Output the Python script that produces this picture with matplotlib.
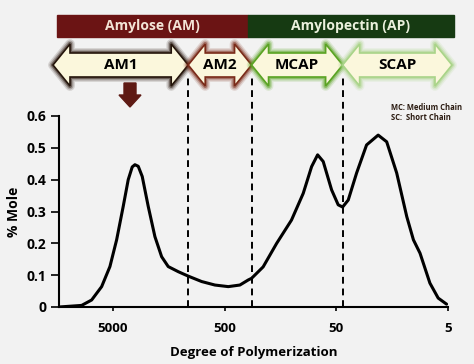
import matplotlib.pyplot as plt
import numpy as np
from matplotlib.patches import Polygon, Rectangle

# chain length distribution
dp = [15200, 9530, 7755, 6310, 5320, 4633, 4045, 3648, 3359, 3177, 2967, 2733, 2415,
      2104, 1832, 1599, 1301, 1059, 803, 611, 464, 365, 307, 287, 226, 171, 126, 98.9,
      83.2, 73.5, 65.5, 55.1, 48.1, 43.9, 39.1, 32.9, 26.8, 21.1, 17.7, 14.4, 11.7,
      10.2, 8.9, 7.26, 6.12, 5.15]
mole = [0.0, 0.005, 0.022, 0.064, 0.127, 0.211, 0.316, 0.400, 0.440, 0.447, 0.442, 0.410,
        0.316, 0.221, 0.158, 0.127, 0.111, 0.097, 0.080, 0.069, 0.064, 0.069, 0.085, 0.090,
        0.126, 0.200, 0.273, 0.357, 0.441, 0.478, 0.457, 0.368, 0.321, 0.314, 0.336, 0.421,
        0.509, 0.540, 0.519, 0.421, 0.284, 0.211, 0.169, 0.075, 0.028, 0.009]

split_dp = [1059, 287, 43.9]
xticks = [5000, 500, 50, 5]
xtick_labels = ['5000', '500', '50', '5']
yticks = [0, 0.1, 0.2, 0.3, 0.4, 0.5, 0.6]
ytick_labels = ['0', '0.1', '0.2', '0.3', '0.4', '0.5', '0.6']
phases = ['Amylose (AM)', 'Amylopectin (AP)']
fractions = ['AM1', 'AM2', 'MCAP', 'SCAP']
notes = ['MC: Medium Chain', 'SC:  Short Chain']

plt.rcParams['font.family'] = ['Open Sans', 'DejaVu Sans']
W, H = 474, 364
fig = plt.figure(figsize=(W / 100, H / 100), dpi=100, facecolor='#f2f2f2')
ax = fig.add_axes([59 / W, 1 - 307 / H, (448 - 59) / W, (307 - 116) / H])
ax.set_facecolor('none')
ax.set_xscale('log')
ax.set_xlim(15200, 5)
ax.set_ylim(0, 0.6)
ax.plot(dp, mole, color='black', lw=2.2, solid_capstyle='round', solid_joinstyle='round', zorder=5)
ax.vlines(split_dp, 0, 0.723, colors='black', linestyles=(0, (3.5, 2.5)), lw=1.4, clip_on=False)

ax.set_xticks(xticks)
ax.set_xticklabels(xtick_labels, fontweight='bold', fontsize=9.5)
ax.minorticks_off()
ax.set_yticks(yticks)
ax.set_yticklabels(ytick_labels, fontweight='bold', fontsize=10)
ax.tick_params(axis='x', length=3, width=1.2, pad=8)
ax.tick_params(axis='y', length=6, width=1.2, pad=3)
for s in ['top', 'right']:
    ax.spines[s].set_visible(False)
for s in ['left', 'bottom']:
    ax.spines[s].set_linewidth(1.5)
ax.set_xlabel('Degree of Polymerization', fontweight='bold', fontsize=9.5, labelpad=8)
ax.set_ylabel('% Mole', fontweight='bold', fontsize=10, labelpad=4)

# overlay in pixel coordinates for the banner and arrows
ov = fig.add_axes([0, 0, 1, 1])
ov.set_xlim(0, W)
ov.set_ylim(H, 0)
ov.axis('off')
ov.patch.set_alpha(0)

px = [ax.transData.transform((d, 0))[0] for d in split_dp]
edges = [53] + px + [452]

# banner
ov.add_patch(Rectangle((57, 15), px[1] - 4 - 57, 22, color='#6b1414'))
ov.add_patch(Rectangle((px[1] - 4, 15), 454 - px[1] + 4, 22, color='#163a12'))
ov.text((57 + px[1] - 4) / 2, 26, phases[0], color='#f3e4d6', fontweight='bold', fontsize=10,
        ha='center', va='center')
ov.text((px[1] - 4 + 454) / 2, 26, phases[1], color='#eaf0dc', fontweight='bold', fontsize=10,
        ha='center', va='center')


def dbl_arrow(x0, x1, cy=65, hb=12, hh=21, L=17):
    return [(x0, cy), (x0 + L, cy - hh), (x0 + L, cy - hb), (x1 - L, cy - hb), (x1 - L, cy - hh),
            (x1, cy), (x1 - L, cy + hh), (x1 - L, cy + hb), (x0 + L, cy + hb), (x0 + L, cy + hh)]


glows = ['#24140a', '#7a2a18', '#5aa323', '#a9d488']
for i, name in enumerate(fractions):
    pts = dbl_arrow(edges[i], edges[i + 1])
    for lw, a in [(7, 0.15), (5, 0.25), (3, 0.45)]:
        ov.add_patch(Polygon(pts, closed=True, fill=False, edgecolor=glows[i], lw=lw, alpha=a,
                             joinstyle='round'))
    ov.add_patch(Polygon(pts, closed=True, facecolor='#fbf7dc', edgecolor=glows[i], lw=1.2))
    ov.text((edges[i] + edges[i + 1]) / 2, 65, name, fontweight='bold', fontsize=11,
            ha='center', va='center', color='black')

# down arrow under AM1
ov.add_patch(Polygon([(124, 83), (136, 83), (136, 95), (141, 95), (130, 107), (119, 95), (124, 95)],
                     closed=True, color='#5e1a14'))

ov.text(391, 107, notes[0], fontsize=5.5, fontweight='bold', color='#2a1a10', va='center')
ov.text(391, 117, notes[1], fontsize=5.5, fontweight='bold', color='#2a1a10', va='center')

fig.savefig('out.png', dpi=100, facecolor=fig.get_facecolor())
